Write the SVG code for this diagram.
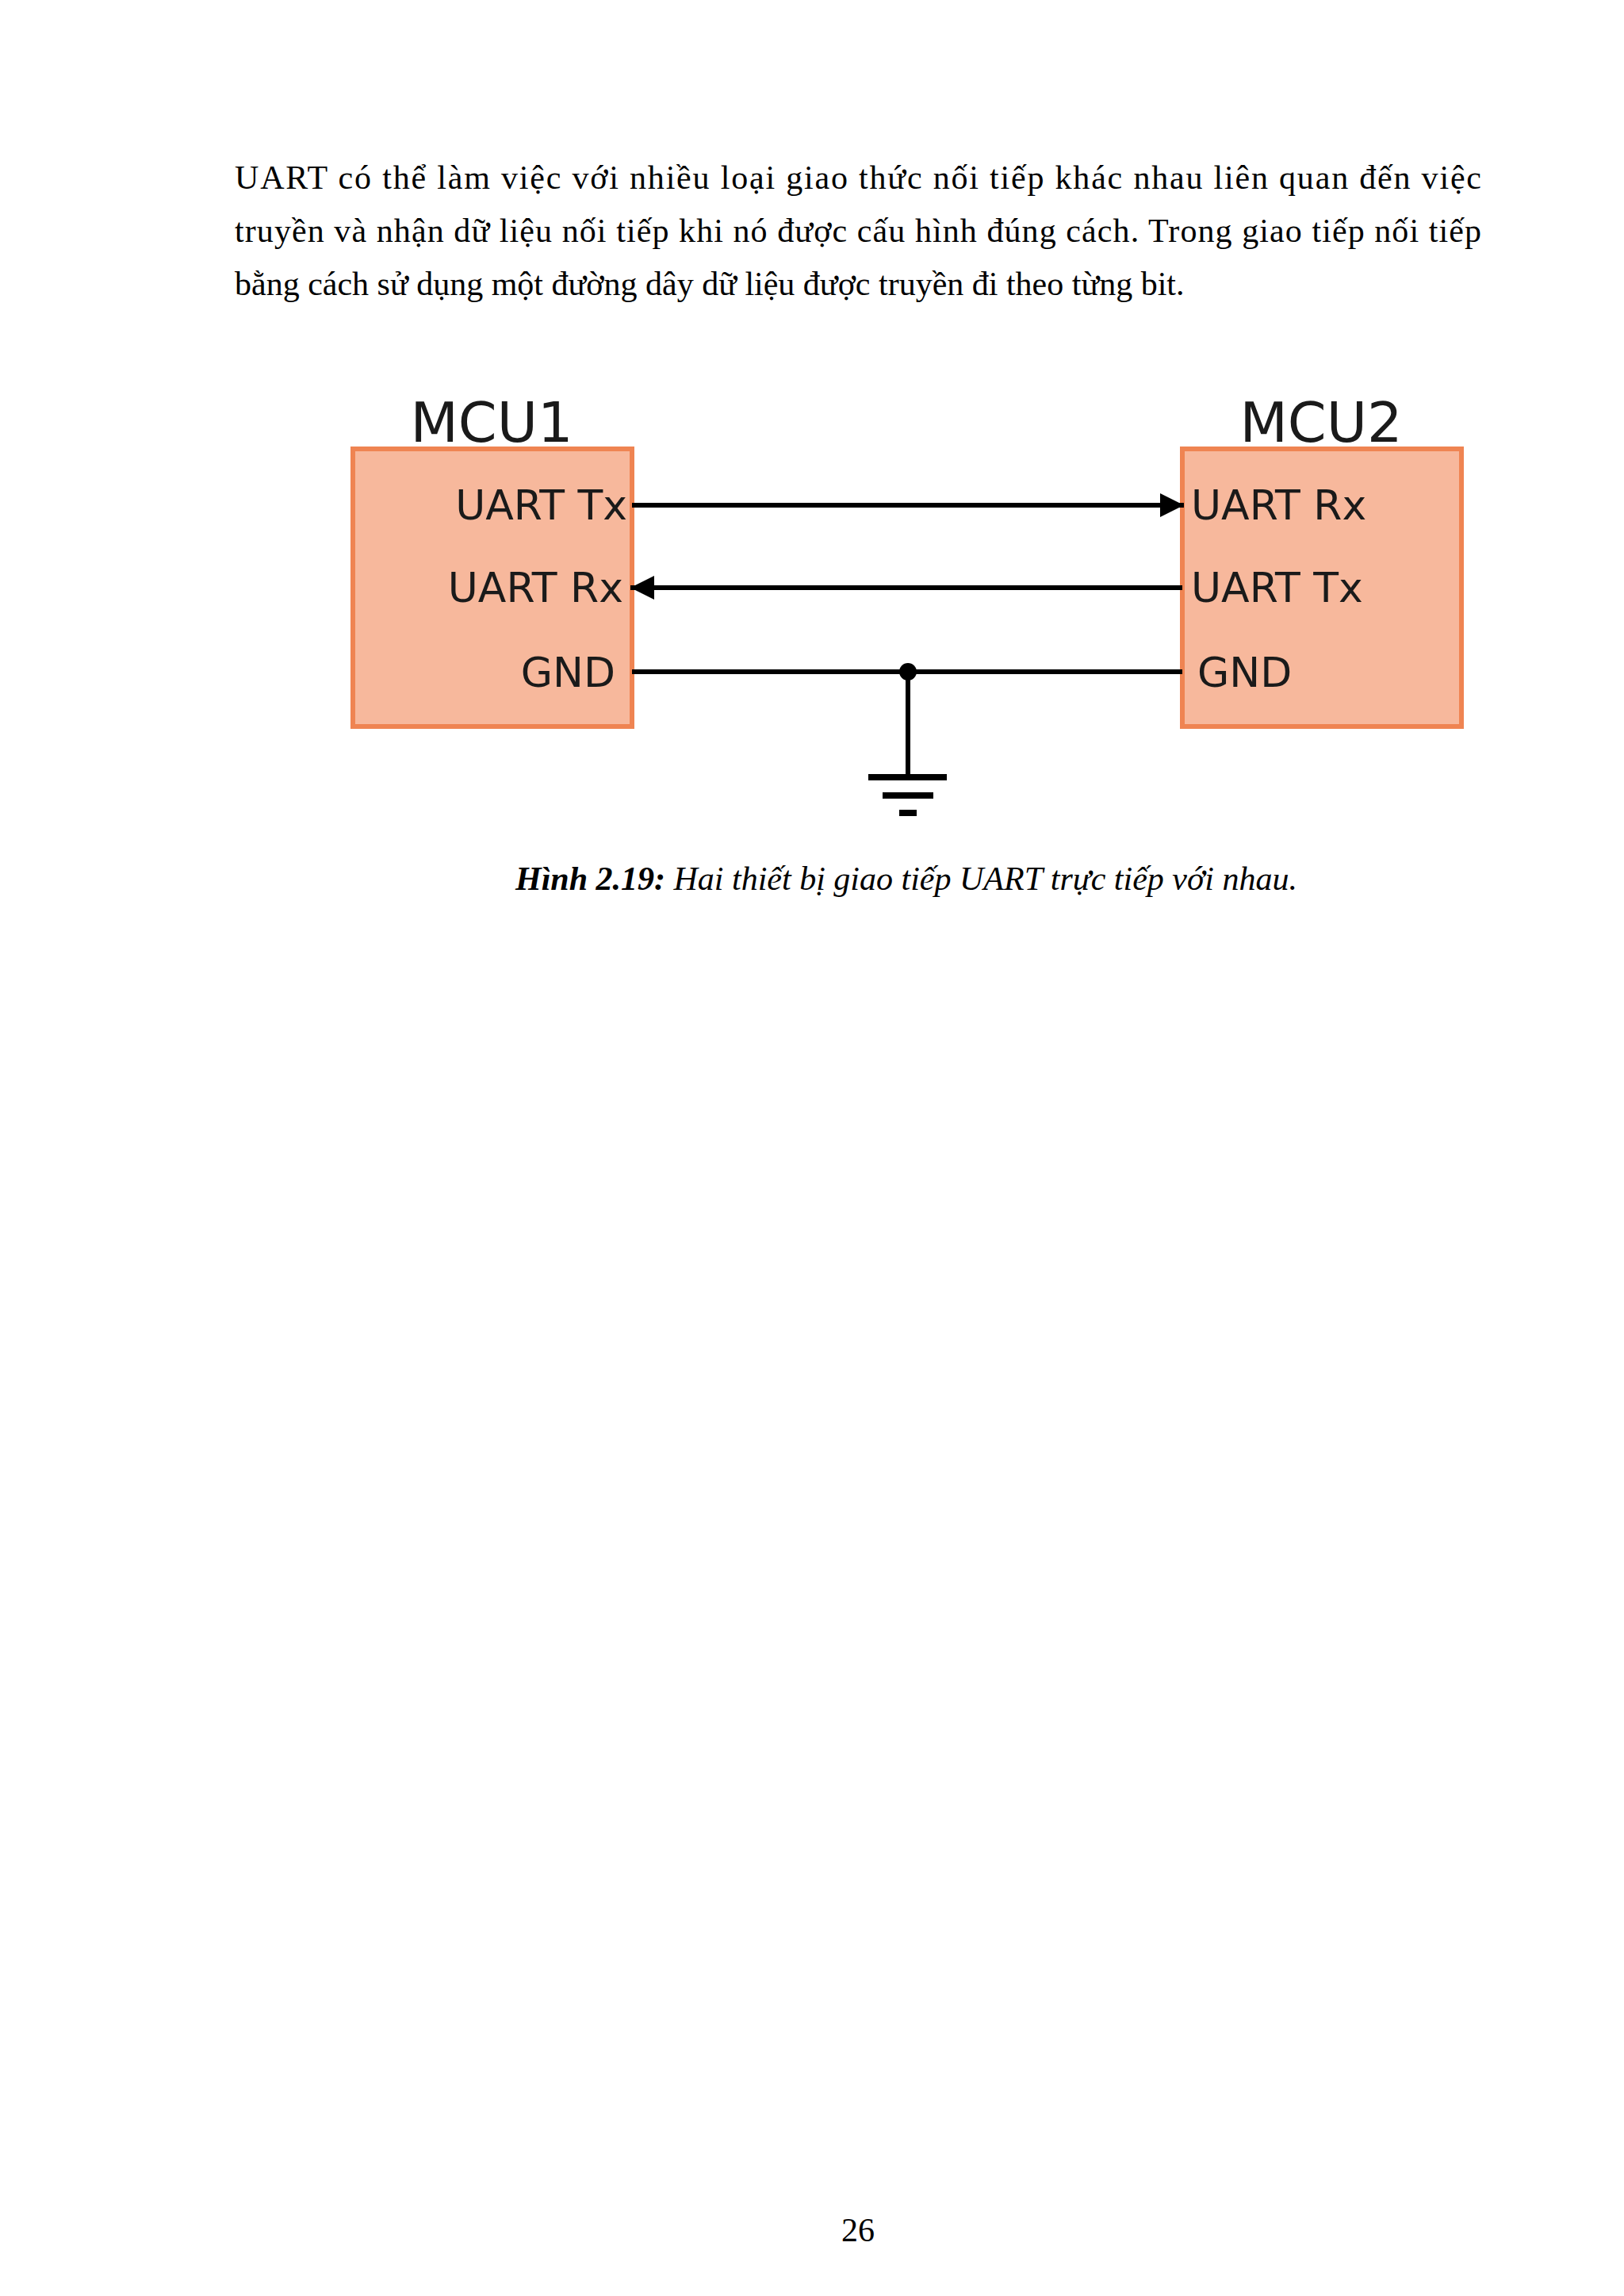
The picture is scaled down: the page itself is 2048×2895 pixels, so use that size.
<svg xmlns="http://www.w3.org/2000/svg" width="2048" height="2895" viewBox="0 0 2048 2895">
<defs>
<style>
.p{font-family:"Liberation Serif","Times New Roman",serif;font-size:42px;fill:#000}
.d{font-family:"DejaVu Sans",Verdana,sans-serif;font-size:52px;fill:#1a1a1a}
.t{font-family:"DejaVu Sans",Verdana,sans-serif;font-size:70px;fill:#1a1a1a}
.box{fill:#f7b89c;stroke:#ef8452;stroke-width:6}
.w{stroke:#000;stroke-width:6;fill:none}
</style>
<marker id="ah" viewBox="0 0 10 10" refX="10" refY="5" markerWidth="5" markerHeight="5" orient="auto" markerUnits="strokeWidth"><path d="M0,0L10,5L0,10z" fill="#000"/></marker>
</defs>
<rect width="2048" height="2895" fill="#fff"/>
<text class="p" x="296" y="238" textLength="1572" lengthAdjust="spacing">UART có thể làm việc với nhiều loại giao thức nối tiếp khác nhau liên quan đến việc</text>
<text class="p" x="296" y="305" textLength="1572" lengthAdjust="spacing">truyền và nhận dữ liệu nối tiếp khi nó được cấu hình đúng cách. Trong giao tiếp nối tiếp</text>
<text class="p" x="296" y="372">bằng cách sử dụng một đường dây dữ liệu được truyền đi theo từng bit.</text>
<g id="mcu1">
<rect class="box" x="445" y="566" width="352" height="350"/>
<text class="t" x="620" y="557" text-anchor="middle">MCU1</text>
<text class="d" x="791" y="655" text-anchor="end">UART Tx</text>
<text class="d" x="786" y="759" text-anchor="end">UART Rx</text>
<text class="d" x="776" y="866" text-anchor="end">GND</text>
</g>
<g id="mcu2">
<rect class="box" x="1491" y="566" width="352" height="350"/>
<text class="t" x="1666" y="557" text-anchor="middle">MCU2</text>
<text class="d" x="1502" y="655">UART Rx</text>
<text class="d" x="1502" y="759">UART Tx</text>
<text class="d" x="1510" y="866">GND</text>
</g>
<g id="connectors">
<line class="w" x1="797" y1="637" x2="1493" y2="637" marker-end="url(#ah)"/>
<line class="w" x1="1491" y1="741" x2="795" y2="741" marker-end="url(#ah)"/>
<line class="w" x1="797" y1="847" x2="1491" y2="847"/>
<circle cx="1145" cy="847" r="11" fill="#000"/>
<line class="w" x1="1145" y1="847" x2="1145" y2="977"/>
</g>
<g id="ground">
<line x1="1095" y1="980" x2="1194" y2="980" stroke="#000" stroke-width="8"/>
<line x1="1113" y1="1003" x2="1177" y2="1003" stroke="#000" stroke-width="8"/>
<line x1="1134" y1="1025" x2="1156" y2="1025" stroke="#000" stroke-width="8"/>
</g>
<text class="p" x="1143" y="1122" text-anchor="middle" font-style="italic"><tspan font-weight="bold">Hình 2.19:</tspan> Hai thiết bị giao tiếp UART trực tiếp với nhau.</text>
<text class="p" x="1082" y="2826" text-anchor="middle">26</text>
</svg>
